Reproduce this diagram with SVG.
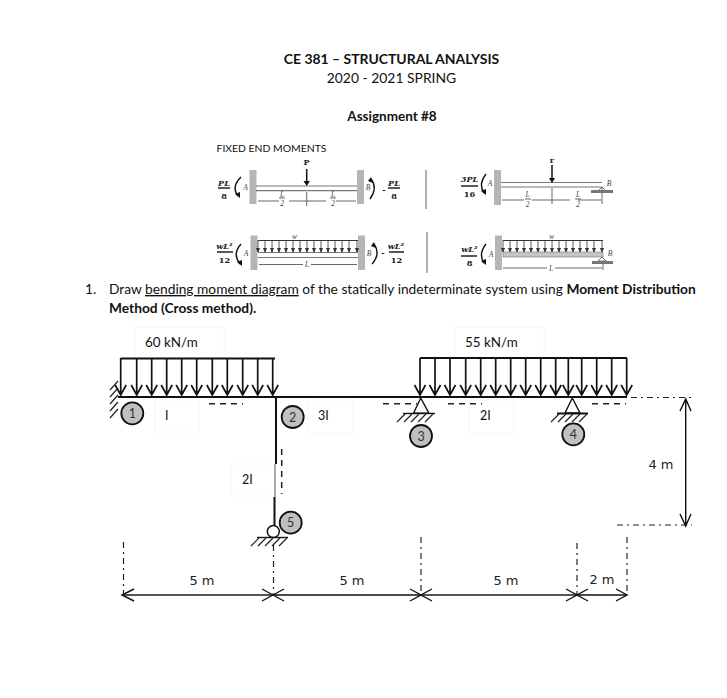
<svg xmlns="http://www.w3.org/2000/svg" xmlns:xlink="http://www.w3.org/1999/xlink" width="727" height="698" viewBox="0 0 727 698">
<style>
text{font-family:Lato,"Liberation Sans",sans-serif;fill:#111}
.b{font-weight:700}
.t{font-size:13.75px}
.m{text-anchor:middle}
.dim{font-family:"DejaVu Sans",sans-serif;font-size:13px;text-anchor:middle;fill:#222}
.f{font-family:"DejaVu Serif","Liberation Serif",serif;font-weight:700;font-size:8.2px;text-anchor:middle;fill:#222}
.fi{font-style:italic}
.lb{font-family:"Liberation Serif",serif;font-style:italic;font-size:7.5px;text-anchor:middle;fill:#444}
.wall{fill:#b5b5b5}
.thin{stroke:#333;stroke-width:1;fill:none}
.hat{stroke:#222;stroke-width:1.2;fill:none}
.beam{stroke:#777;stroke-width:1.2;fill:none}
.gr{stroke:#666;stroke-width:1;fill:none}
.k{stroke:#111;stroke-width:2;fill:none}
.k1{stroke:#111;stroke-width:1.4;fill:none}
.ak{stroke:#111;stroke-width:1.7;fill:none}
.dd{stroke:#222;stroke-width:1.2;fill:none;stroke-dasharray:6 4 2 4}
.da{stroke:#222;stroke-width:1.5;fill:none;stroke-dasharray:6 5}
.circ{fill:#c0c0c0;stroke:#111;stroke-width:1.8}
.n{font-size:12.5px;text-anchor:middle;fill:#333}
.box{fill:#fff;stroke:#f6f6f6;stroke-width:1}
.sep{stroke:#999;stroke-width:1.5}
</style>
<defs>
<g id="ar"><path d="M0 -37V0M-5.5 -10L0 0L5.5 -10" class="ak"/></g>
<g id="sa"><path d="M0 -12V0M-1.6 -4L0 0L1.6 -4" stroke="#333" stroke-width=".8" fill="#333"/></g>
<g id="ha"><path d="M4 0L-4 8M11 0L3 8M18 0L10 8M25 0L17 8M32 0L24 8" class="hat"/></g>
</defs>

<g id="header">
<text class="b m" x="391.500" y="64" style="font-size:13.95px">CE 381 – STRUCTURAL ANALYSIS</text>
<text class="m" x="391.500" y="83" style="font-size:13.9px">2020 - 2021 SPRING</text>
<text class="b m" x="392" y="121" style="font-size:13.5px">Assignment #8</text>
<text x="216.500" y="152" style="font-size:10.4px">FIXED END MOMENTS</text>
</g>

<g id="fem-fixed-point">
<rect class="wall" x="249.500" y="170" width="7" height="34"/><rect class="wall" x="357" y="170" width="7" height="34"/>
<path class="beam" d="M256 186H357M256 190.700H357"/>
<path class="gr" d="M258 201H279M289 201H326M336 201H356M306.700 192V206"/>
<path d="M306.700 169V184" stroke="#111" stroke-width="1.5"/><path d="M303.500 181L306.700 186L310 181Z" fill="#111"/>
<text class="f" x="306.700" y="165">P</text>
<text class="lb" x="282" y="196.500">L</text><path class="gr" d="M279 198H285"/><text class="lb" x="282" y="206">2</text>
<text class="lb" x="333" y="196.500">L</text><path class="gr" d="M330 198H336"/><text class="lb" x="333" y="206">2</text>
<text class="f fi" x="224" y="186">PL</text><path class="k1" d="M218 188H230"/><text class="f" x="224" y="199">8</text>
<text class="lb" x="245.500" y="190">A</text><text class="lb" x="368" y="190">B</text>
<path class="k1" d="M241 177Q231 187 238 196"/><path d="M235 194L240 198L240 192Z" fill="#111"/>
<path class="k1" d="M371 179Q378 188 370 199"/><path d="M368 181L371 177L373 183Z" fill="#111"/>
<text class="f" x="384" y="193">-</text>
<text class="f fi" x="394" y="186">PL</text><path class="k1" d="M388 188H400"/><text class="f" x="394" y="199">8</text>
</g>

<g id="fem-fixed-udl">
<rect class="wall" x="250.500" y="235.500" width="7" height="34.500"/><rect class="wall" x="358" y="235.500" width="7" height="34.500"/>
<path class="thin" d="M258 240.500H358"/>
<use xlink:href="#sa" x="258" y="252"/><use xlink:href="#sa" x="265" y="252"/><use xlink:href="#sa" x="272" y="252"/><use xlink:href="#sa" x="279" y="252"/><use xlink:href="#sa" x="286" y="252"/><use xlink:href="#sa" x="293" y="252"/><use xlink:href="#sa" x="300" y="252"/><use xlink:href="#sa" x="307" y="252"/><use xlink:href="#sa" x="314" y="252"/><use xlink:href="#sa" x="321" y="252"/><use xlink:href="#sa" x="328" y="252"/><use xlink:href="#sa" x="335" y="252"/><use xlink:href="#sa" x="342" y="252"/><use xlink:href="#sa" x="349" y="252"/><use xlink:href="#sa" x="357" y="252"/>
<path class="beam" d="M258 252.500H358M258 257.500H358"/>
<path class="gr" d="M259 264.500H303M311 264.500H357"/>
<text class="lb" x="307" y="267">L</text><text class="lb" x="294.500" y="238.500">w</text>
<text class="f fi" x="224.500" y="249">wL²</text><path class="k1" d="M217 252H233"/><text class="f" x="224.500" y="263">12</text>
<text class="lb" x="246" y="256">A</text><text class="lb" x="369" y="256">B</text>
<path class="k1" d="M241 244Q232 254 240 264"/><path d="M237 262L242 266L242 260Z" fill="#111"/>
<path class="k1" d="M374 244Q381 254 372 264"/><path d="M371 246L374 242L376 248Z" fill="#111"/>
<text class="f" x="383" y="256">-</text>
<text class="f fi" x="396" y="249">wL²</text><path class="k1" d="M389 252H404"/><text class="f" x="396.500" y="263">12</text>
</g>

<path class="sep" d="M426 170V209M427 232V273"/>

<g id="fem-propped-point">
<rect class="wall" x="494" y="170" width="7" height="35"/>
<path class="beam" d="M501 182.500H602M501 187H602"/>
<path d="M552 165V180" stroke="#111" stroke-width="1.5"/><path d="M549 178L552 183L555 178Z" fill="#111"/>
<text class="f" x="552" y="163">r</text>
<path class="gr" d="M502 200H524M532 200H570M578 200H601M552 188V204M602 187V204"/>
<text class="lb" x="527.500" y="197">L</text><path class="gr" d="M525 199H531"/><text class="lb" x="527.500" y="207">2</text>
<text class="lb" x="578" y="197">L</text><path class="gr" d="M575 199H581"/><text class="lb" x="578" y="207">2</text>
<path d="M602 187L598 191H606Z" fill="none" stroke="#555" stroke-width=".8"/><rect x="591" y="190" width="22" height="3" fill="#777"/>
<text class="lb" x="609" y="186">B</text><text class="lb" x="490" y="186">A</text>
<text class="f fi" x="469.500" y="182">3PL</text><path class="k1" d="M461 186H478"/><text class="f" x="469.500" y="197">16</text>
<path class="k1" d="M486 174Q478 184 484 193"/><path d="M481 191L486 195L486 189Z" fill="#111"/>
</g>

<g id="fem-propped-udl">
<rect class="wall" x="495" y="235.500" width="7" height="34.500"/>
<path class="thin" d="M503 240.500H603"/>
<use xlink:href="#sa" x="503" y="252"/><use xlink:href="#sa" x="510" y="252"/><use xlink:href="#sa" x="517" y="252"/><use xlink:href="#sa" x="524" y="252"/><use xlink:href="#sa" x="531" y="252"/><use xlink:href="#sa" x="538" y="252"/><use xlink:href="#sa" x="545" y="252"/><use xlink:href="#sa" x="552" y="252"/><use xlink:href="#sa" x="559" y="252"/><use xlink:href="#sa" x="566" y="252"/><use xlink:href="#sa" x="573" y="252"/><use xlink:href="#sa" x="580" y="252"/><use xlink:href="#sa" x="587" y="252"/><use xlink:href="#sa" x="594" y="252"/><use xlink:href="#sa" x="602" y="252"/>
<path d="M503 252H603V257H503Z" fill="#c4c4c4" stroke="#777" stroke-width=".6"/>
<path class="gr" d="M503 268H547M555 268H602M603 264V270"/>
<text class="lb" x="551" y="270.500">L</text><text class="lb" x="551.500" y="238.500">w</text>
<path d="M602 257L598 261H606Z" fill="none" stroke="#555" stroke-width=".8"/><rect x="592" y="261" width="21" height="3" fill="#777"/>
<text class="lb" x="610" y="256">B</text><text class="lb" x="491" y="257">A</text>
<text class="f fi" x="469.500" y="252">wL²</text><path class="k1" d="M461 256H477"/><text class="f" x="469.500" y="266">8</text>
<path class="k1" d="M486 244Q478 254 484 263"/><path d="M481 261L486 265L486 259Z" fill="#111"/>
</g>

<g id="problem">
<text class="t" x="85" y="294">1.</text>
<text class="t" y="294" x="109">Draw <tspan text-decoration="underline">bending moment diagram</tspan> of the statically indeterminate system using <tspan class="b">Moment Distribution</tspan></text>
<text class="t b" x="109" y="313">Method (Cross method).</text>
</g>

<g id="label-boxes">
<rect class="box" x="135" y="327" width="89" height="31"/><rect class="box" x="455" y="327" width="89" height="31"/>
<rect class="box" x="155" y="400" width="44" height="32"/><rect class="box" x="308" y="400" width="45" height="33"/>
<rect class="box" x="469" y="400" width="45" height="33"/><rect class="box" x="231" y="464" width="44" height="32"/>
</g>

<g id="connectors">
<path class="k" d="M118 397H627"/>
<path class="k" d="M276 397V464M274.500 497V525"/><path d="M275 464V497" stroke="#777" stroke-width="1.2"/>
<path class="k" d="M120.700 358.500H275M420 358H627"/>
<g id="udl-60">
<use xlink:href="#ar" x="120.700" y="395"/><use xlink:href="#ar" x="136.700" y="395"/><use xlink:href="#ar" x="151.700" y="395"/><use xlink:href="#ar" x="166.700" y="395"/><use xlink:href="#ar" x="181.700" y="395"/><use xlink:href="#ar" x="196.700" y="395"/><use xlink:href="#ar" x="212.300" y="395"/><use xlink:href="#ar" x="227.300" y="395"/><use xlink:href="#ar" x="242.700" y="395"/><use xlink:href="#ar" x="257.700" y="395"/><use xlink:href="#ar" x="272.700" y="395"/>
</g>
<g id="udl-55">
<use xlink:href="#ar" x="420" y="395"/><use xlink:href="#ar" x="435" y="395"/><use xlink:href="#ar" x="450" y="395"/><use xlink:href="#ar" x="465.700" y="395"/><use xlink:href="#ar" x="480.700" y="395"/><use xlink:href="#ar" x="495.700" y="395"/><use xlink:href="#ar" x="510.700" y="395"/><use xlink:href="#ar" x="525.700" y="395"/><use xlink:href="#ar" x="540.700" y="395"/><use xlink:href="#ar" x="555.700" y="395"/><use xlink:href="#ar" x="568.300" y="395"/><use xlink:href="#ar" x="581.700" y="395"/><use xlink:href="#ar" x="596.700" y="395"/><use xlink:href="#ar" x="611.700" y="395"/><use xlink:href="#ar" x="626.700" y="395"/>
</g>
<path class="da" d="M209 403.700H243M383 403.700H417M448 403.700H482M592 403.700H626M281.700 449V494"/>
<path class="dd" d="M631 397.500H693M617 525H692M123.500 542V595M273.500 545V595M421 537V595M577 543V595M627 537V595"/>
<path class="k1" d="M685.700 400V525M680 411L685.700 399L691 411M680 514L685.700 526L691 514"/>
<path stroke="#555" stroke-width="1.800" fill="none" d="M122 595H273M421 595H577"/>
<path class="k1" d="M273 595H421M577 595H627"/>
<path class="k1" d="M134 589L122 595L134 601M262 589L284 601M262 601L284 589M410 589L421 595L410 601M432 589L421 595L432 601M566 589L577 595L566 601M588 589L577 595L588 601M616 589L627 595L616 601"/>
</g>

<g id="node-1">
<path class="hat" d="M118 381L110 390M118 388L110 397M118 395L110 404M118 402L110 411M118 409L110 418"/>
<circle class="circ" cx="132.300" cy="413.300" r="11"/><text class="n" x="132.300" y="418">1</text>
</g>
<g id="node-2"><circle class="circ" cx="292.700" cy="417" r="11"/><text class="n" x="292.700" y="421.500">2</text></g>
<g id="node-3">
<path class="k1" d="M420.700 398L413.500 413.300H429Z"/><path class="k1" d="M403 413.500H435"/><use xlink:href="#ha" x="401" y="414"/>
<circle class="circ" cx="421" cy="436" r="11"/><text class="n" x="421" y="440.500">3</text>
</g>
<g id="node-4">
<path class="k1" d="M572.300 398L565 413H580Z"/><path class="k" d="M557 413.500H588"/><use xlink:href="#ha" x="555" y="414"/>
<circle class="circ" cx="573.300" cy="434.300" r="11"/><text class="n" x="573.300" y="439">4</text>
</g>
<g id="node-5">
<circle cx="273.300" cy="531.500" r="6" fill="#fff" stroke="#111" stroke-width="1.500"/>
<path class="k1" d="M257 537.500H288"/><use xlink:href="#ha" x="255" y="538"/>
<circle class="circ" cx="290.700" cy="522.700" r="11"/><text class="n" x="290.700" y="527">5</text>
</g>

<g id="labels">
<text x="145" y="347" style="font-size:13.4px">60 kN/m</text>
<text x="465" y="347" style="font-size:13.4px">55 kN/m</text>
<text x="165" y="420" style="font-size:12.5px">I</text>
<text x="318" y="420" style="font-size:12.5px">3I</text>
<text x="480" y="420" style="font-size:12.5px">2I</text>
<text x="242" y="484" style="font-size:12.5px">2I</text>
<text class="dim" x="202" y="585">5 m</text><text class="dim" x="352" y="585">5 m</text><text class="dim" x="506" y="585">5 m</text><text class="dim" x="602" y="584">2 m</text><text class="dim" x="661" y="469">4 m</text>
</g>
</svg>
